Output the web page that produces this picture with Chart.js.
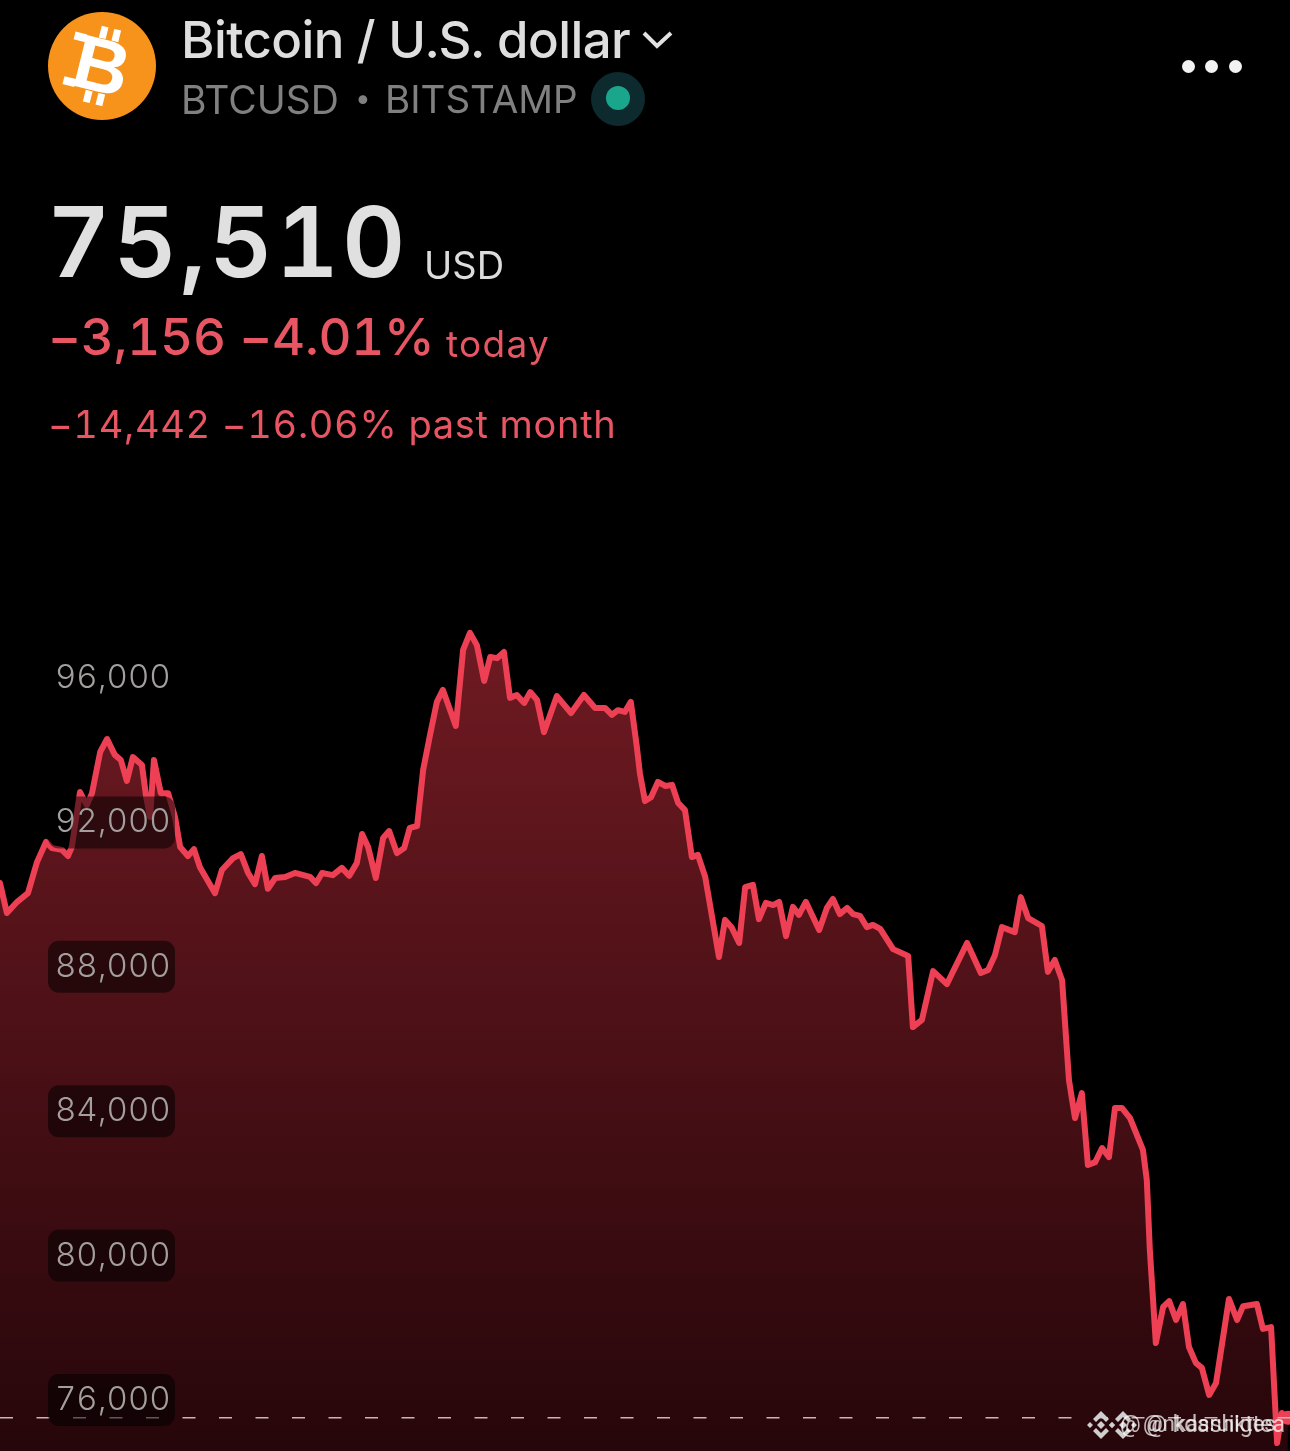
<!DOCTYPE html>
<html>
<head>
<meta charset="utf-8">
<title>BTCUSD</title>
<script src="https://cdn.jsdelivr.net/npm/chart.js@4/dist/chart.umd.min.js"></script>
<style>
  html, body { margin: 0; background: #000; }
  body { position: relative; width: 1290px; height: 1451px; overflow: hidden; font-family: "Inter", sans-serif; font-feature-settings: "tnum"; }
  #chartPrice { position: absolute; left: 0; top: 0; }
  .txt { position: absolute; white-space: nowrap; line-height: 1; }
  .logo { position: absolute; left: 48px; top: 12px; width: 108px; height: 108px; border-radius: 50%; background: #f7931a; }
  .coin { position: absolute; left: 0; top: 0; width: 108px; height: 108px; transform: rotate(14deg); }
  .coin span { position: absolute; left: 0; top: 0; width: 108px; line-height: 108px; text-align: center; color: #fff; font: bold 76px/108px "Liberation Sans"; }
  .coin i { position: absolute; background: #fff; }
  .ring { position: absolute; left: 591px; top: 72px; width: 54px; height: 54px; border-radius: 50%; background: #0d2a2e; }
  .dot { position: absolute; left: 606px; top: 86px; width: 24px; height: 24px; border-radius: 50%; background: #1aa68c; }
  .more { position: absolute; top: 60px; width: 13px; height: 13px; border-radius: 50%; background: #f2f2f2; }
  .mark { position: absolute; color: rgba(255,255,255,.72); font: 23px "Roboto"; white-space: nowrap; line-height: 1; }
</style>
</head>
<body>
<canvas id="chartPrice" width="1290" height="1451"></canvas>

<div class="logo"><div class="coin">
  <span>B</span>
  <i style="left:44px;top:15px;width:7px;height:12px"></i><i style="left:57px;top:15px;width:7px;height:12px"></i>
  <i style="left:44px;top:81px;width:7px;height:12px"></i><i style="left:57px;top:81px;width:7px;height:12px"></i>
  <i style="left:20px;top:27px;width:12px;height:8px"></i><i style="left:20px;top:73px;width:12px;height:8px"></i>
</div></div>
<div class="txt" style="left:181px;top:14px;font-size:51px;font-weight:500;color:#dedede;letter-spacing:-.6px">Bitcoin / U.S. dollar</div>
<svg style="position:absolute;left:640px;top:28px" width="36" height="24"><path d="M4 5 L17 18 L31 5" fill="none" stroke="#e2e2e2" stroke-width="4"/></svg>
<div class="txt" style="left:181px;top:80px;font-size:39px;color:#808080">BTCUSD</div>
<div class="txt" style="left:355px;top:84px;font-size:28px;color:#808080">•</div>
<div class="txt" style="left:385px;top:80px;font-size:38.5px;color:#808080">BITSTAMP</div>
<div class="ring"></div><div class="dot"></div>
<div class="more" style="left:1182px"></div><div class="more" style="left:1205px"></div><div class="more" style="left:1229px"></div>

<div class="txt" style="left:47px;top:193px;font-size:98px;font-weight:600;color:#e0e0e0;letter-spacing:3px">75,510</div>
<div class="txt" style="left:424px;top:246px;font-size:38px;color:#dcdcdc">USD</div>
<div class="txt" style="left:48px;top:311px;font-size:51px;font-weight:500;color:#e85664;letter-spacing:-.2px">−3,156 −4.01%</div>
<div class="txt" style="left:446px;top:325px;font-size:37px;color:#e85664;letter-spacing:1.3px">today</div>
<div class="txt" style="left:48px;top:405px;font-size:38px;color:#e85664;letter-spacing:.7px">−14,442 −16.06% past month</div>

<svg style="position:absolute;left:1085px;top:1408px" width="60" height="36">
  <defs>
    <g id="bnb" fill="#cfcfcf"><path d="M0 -4 L4 0 L0 4 L-4 0 Z M-11 -3 L-8 0 L-11 3 L-14 0 Z M11 -3 L14 0 L11 3 L8 0 Z M0 -14 L8 -6 L5 -3 L0 -8 L-5 -3 L-8 -6 Z M0 14 L8 6 L5 3 L0 8 L-5 3 L-8 6 Z"/></g>
  </defs>
  <use href="#bnb" x="16" y="17"/>
  <use href="#bnb" x="38" y="17"/>
</svg>
<div class="mark" style="left:1120px;top:1413px">@ @ kdashigtea</div>
<div class="mark" style="left:1143px;top:1413px;font-size:22px">@nkasruiktes</div>

<script>
const TICK_VALUES = [96000, 92000, 88000, 84000, 80000, 76000];
const LAST_PRICE = 75510;
const RANGE_DAYS = [0, 30];
const RANGE_PRICE = [74588, 114781];

// days since the start of the month window
const days = [
  0, .16, .40, .65, .86, 1.07, 1.21, 1.44, 1.58, 1.67, 1.86, 2.02, 2.14, 2.33, 2.49, 2.67, 2.81, 2.95, 3.09, 3.30,
  3.40, 3.49, 3.58, 3.74, 3.91, 4.07, 4.19, 4.37, 4.51, 4.65, 5.00, 5.16, 5.42, 5.60, 5.77, 5.93, 6.09, 6.23, 6.40, 6.63,
  6.86, 7.21, 7.35, 7.49, 7.74, 7.95, 8.12, 8.30, 8.42, 8.56, 8.74, 8.91, 9.05, 9.23, 9.40, 9.53, 9.70, 9.84, 10.00, 10.16,
  10.30, 10.60, 10.77, 10.93, 11.09, 11.26, 11.40, 11.56, 11.72, 11.86, 12.02, 12.19, 12.33, 12.49, 12.65, 12.95, 13.28, 13.58, 13.84, 14.07,
  14.23, 14.37, 14.53, 14.67, 14.81, 14.88, 15.00, 15.14, 15.30, 15.47, 15.63, 15.77, 15.93, 16.09, 16.23, 16.40, 16.72, 16.86, 17.02, 17.19,
  17.33, 17.51, 17.65, 17.81, 17.98, 18.12, 18.28, 18.44, 18.58, 18.74, 19.05, 19.23, 19.37, 19.53, 19.70, 19.84, 20.00, 20.16, 20.30, 20.47,
  20.77, 21.12, 21.23, 21.44, 21.70, 22.02, 22.49, 22.81, 22.98, 23.14, 23.30, 23.60, 23.74, 23.91, 24.23, 24.37, 24.53, 24.70, 24.86, 25.00,
  25.16, 25.30, 25.47, 25.63, 25.79, 25.93, 26.09, 26.28, 26.58, 26.67, 26.74, 26.88, 27.05, 27.19, 27.35, 27.51, 27.65, 27.81, 27.95, 28.12,
  28.28, 28.58, 28.77, 28.91, 29.23, 29.37, 29.56, 29.70, 29.81, 29.95,
];

const prices = [
  90320, 89490, 89800, 90040, 90900, 91460, 91290, 91240, 91070, 91320, 92840, 92480, 92810, 93950, 94310, 93870, 93730, 93150, 93810, 93590,
  92700, 92150, 93730, 92810, 92810, 92150, 91320, 91070, 91260, 90760, 90040, 90680, 91010, 91120, 90600, 90290, 91070, 90160, 90460, 90490,
  90600, 90490, 90320, 90600, 90540, 90740, 90520, 90880, 91680, 91320, 90460, 91570, 91760, 91150, 91290, 91850, 91900, 93450, 94420, 95340,
  95670, 94670, 96780, 97250, 96910, 95920, 96580, 96550, 96720, 95450, 95530, 95310, 95610, 95390, 94500, 95500, 95030, 95530, 95170, 95170,
  94980, 95110, 95060, 95340, 94090, 93370, 92590, 92700, 93120, 93010, 93040, 92540, 92340, 91040, 91100, 90490, 88270, 89300, 89080, 88660,
  90210, 90270, 89320, 89770, 89710, 89800, 88850, 89660, 89440, 89800, 89020, 89630, 89880, 89460, 89630, 89460, 89410, 89100, 89160, 89050,
  88490, 88300, 86330, 86530, 87880, 87520, 88660, 87830, 87910, 88330, 89100, 88960, 89930, 89350, 89130, 87860, 88190, 87630, 84860, 83810,
  84500, 82510, 82590, 82980, 82730, 84090, 84090, 83810, 82930, 82090, 80160, 77580, 78580, 78740, 78220, 78660, 77470, 77030, 76890, 76140,
  76470, 78800, 78220, 78600, 78660, 77970, 78020, 74810, 75640, 75510,
];

const LINE_RED = "#ee4054";

function tickPill(ctx, x, y, w, h, r) {
  ctx.beginPath();
  ctx.roundRect(x, y, w, h, r);
  ctx.fill();
}

// dark rounded pills behind the tick labels; the ones over black just disappear
const labelPills = {
  id: "labelPills",
  afterDatasetsDraw(chart) {
    const { ctx, scales } = chart;
    ctx.save();
    ctx.fillStyle = "rgba(0,0,0,0.52)";
    for (const v of TICK_VALUES) {
      tickPill(ctx, 48, scales.y.getPixelForValue(v) - 26, 127, 52, 11);
    }
    ctx.restore();
  },
};

new Chart(document.getElementById("chartPrice").getContext("2d"), {
  type: "line",
  data: {
    labels: days,
    datasets: [
      {
        label: "Last price",
        data: RANGE_DAYS.map((d) => ({ x: d, y: LAST_PRICE })),
        borderColor: "#c9b6ba",
        borderWidth: 1.5,
        borderDash: [13, 23.5],
        pointRadius: 0,
        fill: false,
      },
      {
        label: "BTCUSD",
        data: days.map((d, i) => ({ x: d, y: prices[i] })),
        borderColor: LINE_RED,
        borderWidth: 6,
        borderJoinStyle: "round",
        borderCapStyle: "round",
        tension: 0,
        pointRadius: (c) => (c.dataIndex === days.length - 1 ? 7 : 0),
        pointBackgroundColor: LINE_RED,
        pointBorderWidth: 0,
        fill: "start",
        backgroundColor: (c) => {
          const g = c.chart.ctx.createLinearGradient(0, 630, 0, 1451);
          g.addColorStop(0, "rgb(112,26,34)");
          g.addColorStop(1, "rgb(38,6,10)");
          return g;
        },
      },
    ],
  },
  options: {
    responsive: false,
    animation: false,
    layout: { padding: 0, autoPadding: false },
    plugins: { legend: { display: false }, tooltip: { enabled: false } },
    scales: {
      x: { type: "linear", display: false, min: RANGE_DAYS[0], max: RANGE_DAYS[1] },
      y: {
        type: "linear",
        min: RANGE_PRICE[0],
        max: RANGE_PRICE[1],
        grid: { display: false, drawTicks: false },
        border: { display: false },
        afterBuildTicks: (axis) => { axis.ticks = TICK_VALUES.map((value) => ({ value })); },
        // mirrored labels sit inside the plot, so the axis must not take any room
        afterFit: (axis) => {
          axis.width = 0;
          axis.paddingTop = axis.paddingBottom = axis.paddingLeft = axis.paddingRight = 0;
        },
        ticks: {
          z: 1,
          mirror: true,
          padding: 55,
          color: "#a39f9f",
          font: { family: "Inter", size: 33, weight: "300" },
          callback: (v) => v.toLocaleString("en-US"),
        },
      },
    },
  },
  plugins: [labelPills],
});
</script>
</body>
</html>
